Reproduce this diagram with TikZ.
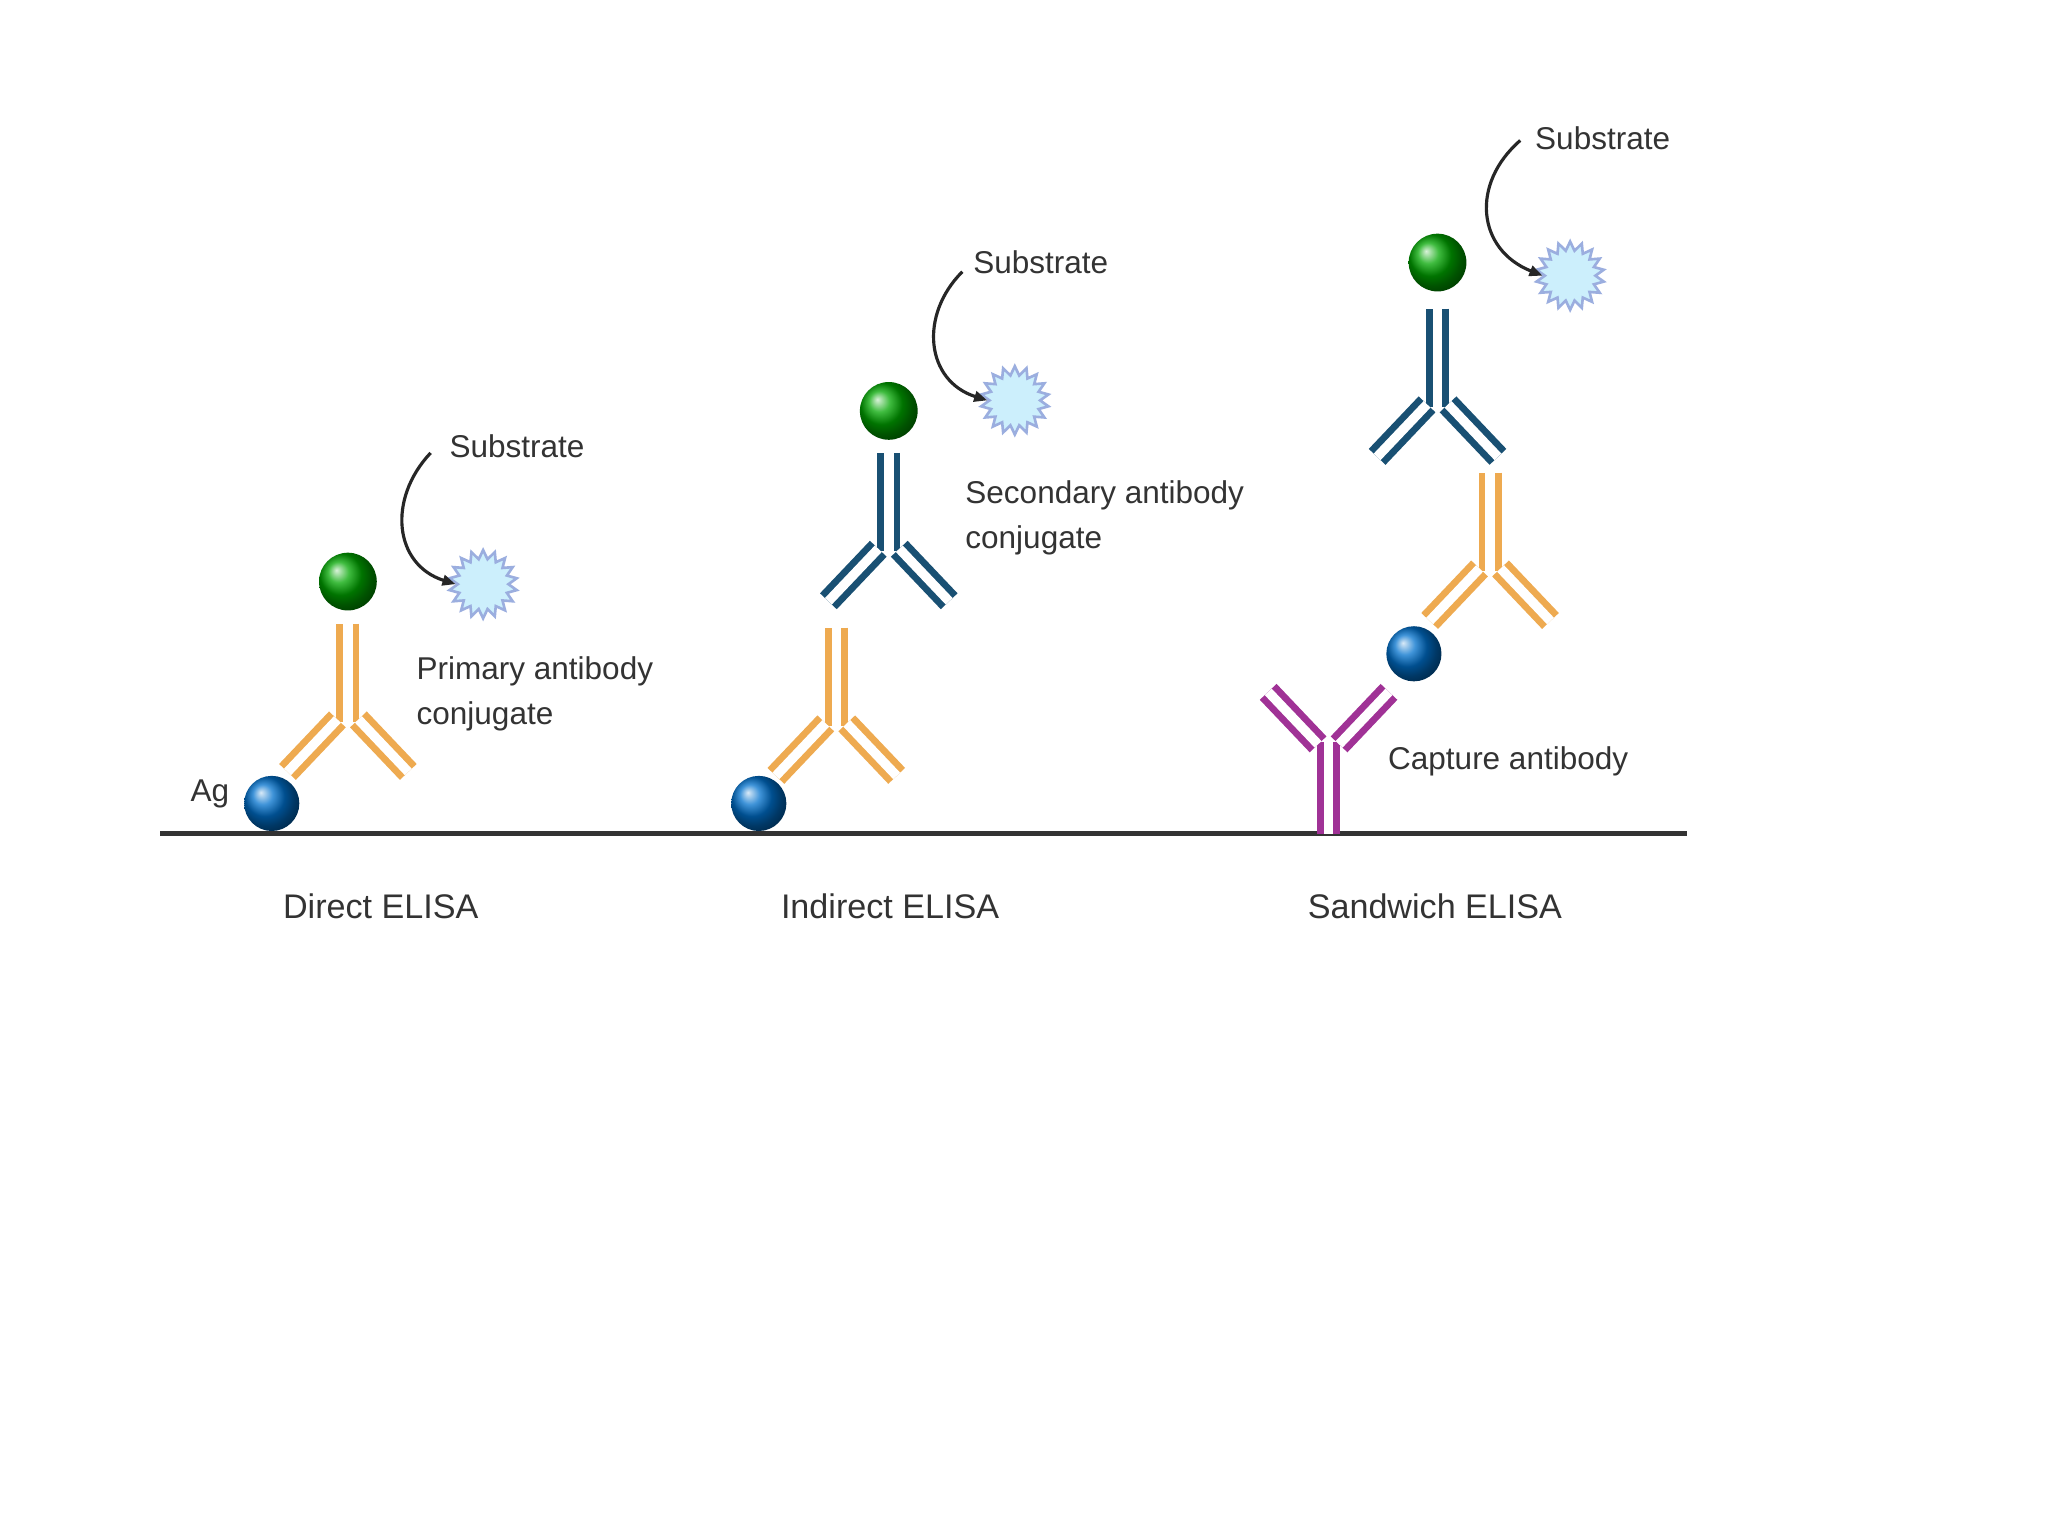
\documentclass[tikz,border=0pt]{standalone}
\usepackage{fontspec}
\setmainfont{Liberation Sans}
\usetikzlibrary{shapes.geometric,arrows.meta}
\definecolor{orab}{RGB}{238,170,80}
\definecolor{blab}{RGB}{25,80,115}
\definecolor{puab}{RGB}{160,50,150}
\tikzset{
 abody/.style={line width=2.6pt,double=white,double distance=3.6pt,line cap=butt},
 gball/.style={circle,minimum size=22pt,inner sep=0pt,ball color=green!65!black,draw=none},
 bball/.style={circle,minimum size=21pt,inner sep=0pt,ball color=blue!45!cyan!80!black,draw=none},
 substar/.style={star,star points=18,star point ratio=1.35,minimum size=26pt,inner sep=0pt,draw=cyan!40!blue!40,fill=cyan!20,line width=1pt},
 lbl/.style={font=\fontsize{12}{17}\selectfont,text=black!80,align=left,inner sep=0pt},
 caplbl/.style={font=\fontsize{13}{15}\selectfont,text=black!80,inner sep=0pt},
 curv/.style={-{Triangle[length=5pt,width=4pt]},line width=1.2pt,black!85}
}
\newcommand{\abdy}[5]{% x y color rotate length
 \begin{scope}[shift={(#1,#2)},rotate=#4]
  \draw[abody,draw=#3] (0,0)--(0,#5);
  \draw[abody,draw=#3] (-8,#5-2)--(-46,#5+38);
  \draw[abody,draw=#3] (8,#5-2)--(46,#5+38);
 \end{scope}}
\begin{document}
\begin{tikzpicture}[x=0.5pt,y=-0.5pt]
\useasboundingbox (0,0) rectangle (1560,1170);
\fill[white] (0,0) rectangle (1560,1170);
\draw[line width=2pt,black!80] (122,635) coordinate (bl) -- (1285,635) coordinate (br);
% Direct
\abdy{265}{475}{orab}{0}{75}
\node[gball] (g1) at (265,443) {};
\node[bball] (b1) at (207,612) {};
\node[substar] (s1) at (368,445) {};
\node[lbl,anchor=west] (t1) at (342,340) {Substrate};
\coordinate (a1) at (328,345);
\draw[curv] (a1) .. controls (295,380) and (300,430) .. (s1.west);
\node[lbl,anchor=north west] (p1) at (317,500) {Primary antibody\\conjugate};
\node[lbl,anchor=east] (ag) at (175,605) {Ag};
\node[caplbl] (c1) at (290,690) {Direct ELISA};
% Indirect
\abdy{637}{478}{orab}{0}{75}
\abdy{677}{345}{blab}{0}{75}
\node[gball] (g2) at (677,313) {};
\node[bball] (b2) at (578,612) {};
\node[substar] (s2) at (773,305) {};
\node[lbl,anchor=west] (t2) at (741,200) {Substrate};
\coordinate (a2) at (733,207);
\draw[curv] (a2) .. controls (700,240) and (705,290) .. (s2.west);
\node[lbl,anchor=north west] (p2) at (735,366) {Secondary antibody\\conjugate};
\node[caplbl] (c2) at (678,690) {Indirect ELISA};
% Sandwich
\abdy{1012}{635}{puab}{180}{70}
\abdy{1135}{360}{orab}{0}{75}
\abdy{1095}{235}{blab}{0}{75}
\node[gball] (g3) at (1095,200) {};
\node[bball] (b3) at (1077,498) {};
\node[substar] (s3) at (1196,210) {};
\node[lbl,anchor=west] (t3) at (1169,105) {Substrate};
\coordinate (a3) at (1158,107);
\draw[curv] (a3) .. controls (1120,140) and (1125,190) .. (s3.west);
\node[lbl,anchor=west] (p3) at (1057,580) {Capture antibody};
\node[caplbl] (c3) at (1093,690) {Sandwich ELISA};
\end{tikzpicture}
\end{document}
